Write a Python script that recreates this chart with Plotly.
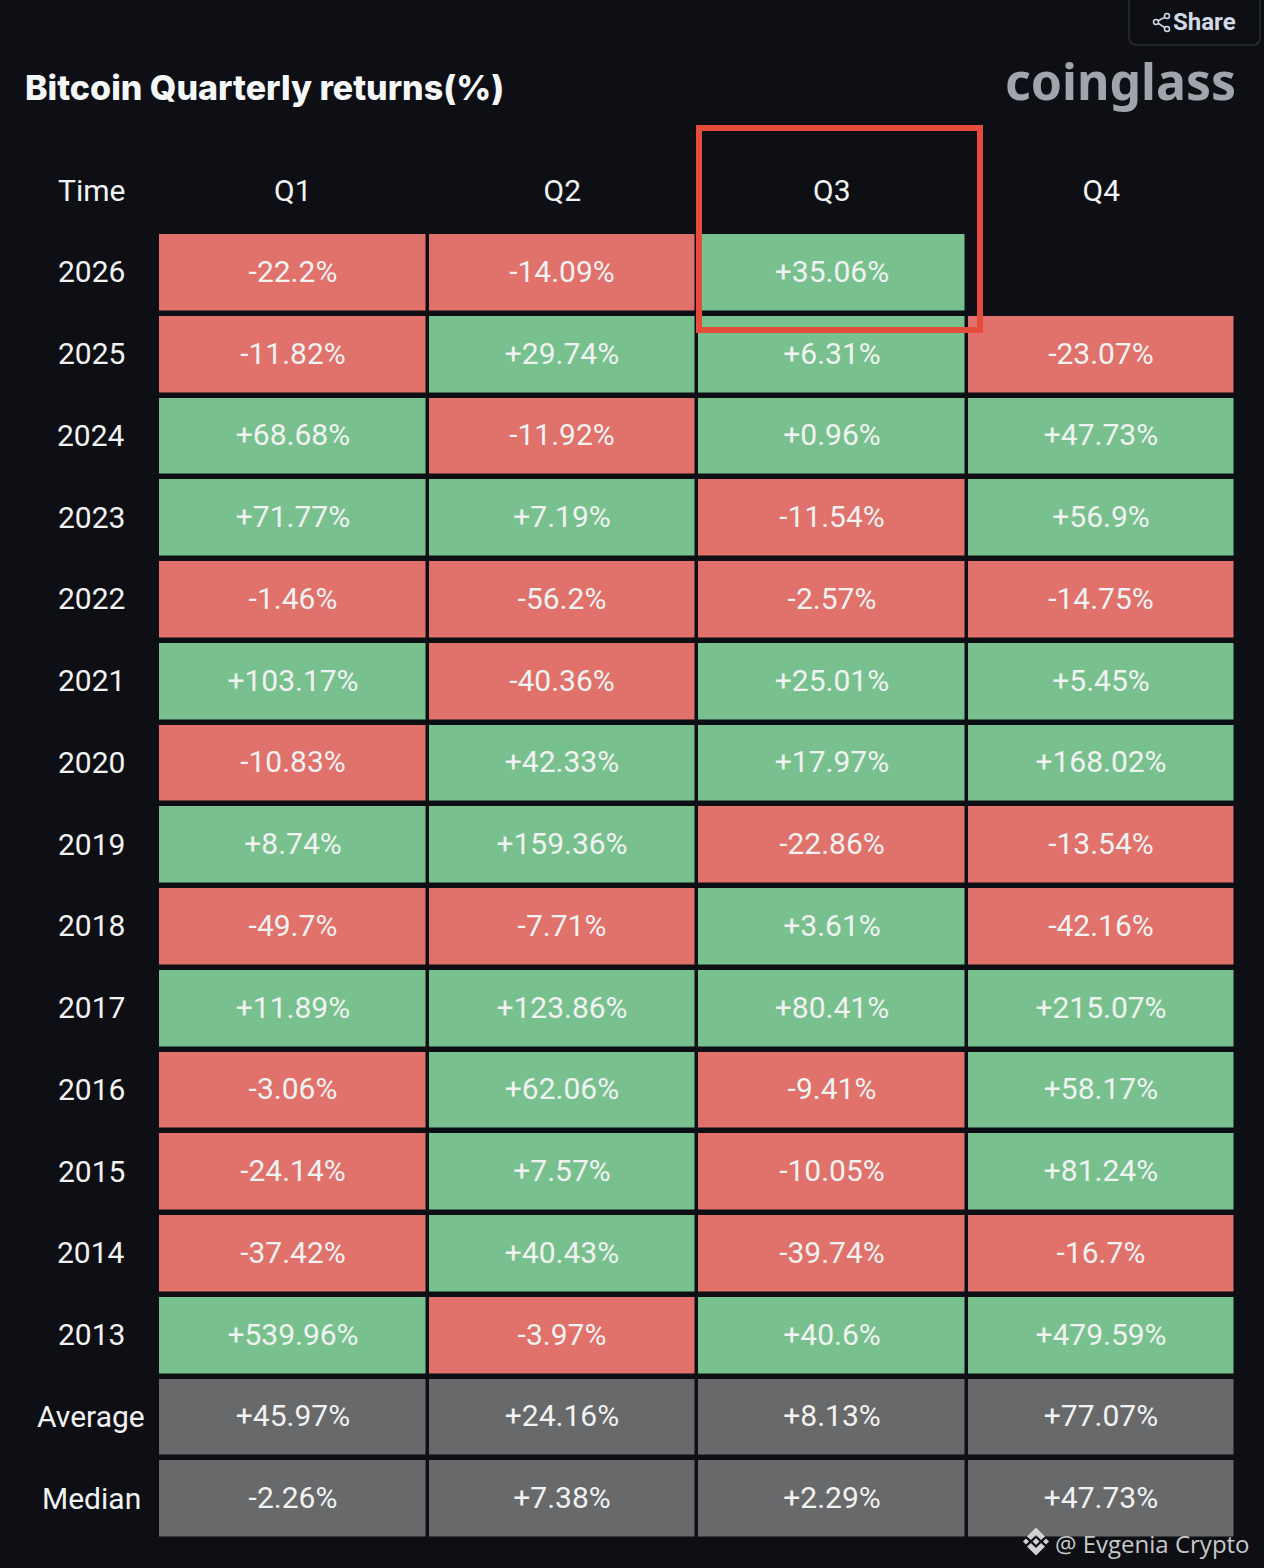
import plotly.graph_objects as go

years = ["2026", "2025", "2024", "2023", "2022", "2021", "2020", "2019", "2018", "2017", "2016", "2015", "2014", "2013"]
stats = ["Average", "Median"]
quarters = ["Q1", "Q2", "Q3", "Q4"]
q1 = [-22.2, -11.82, 68.68, 71.77, -1.46, 103.17, -10.83, 8.74, -49.7, 11.89, -3.06, -24.14, -37.42, 539.96]
q2 = [-14.09, 29.74, -11.92, 7.19, -56.2, -40.36, 42.33, 159.36, -7.71, 123.86, 62.06, 7.57, 40.43, -3.97]
q3 = [35.06, 6.31, 0.96, -11.54, -2.57, 25.01, 17.97, -22.86, 3.61, 80.41, -9.41, -10.05, -39.74, 40.6]
q4 = [None, -23.07, 47.73, 56.9, -14.75, 5.45, 168.02, -13.54, -42.16, 215.07, 58.17, 81.24, -16.7, 479.59]
average = [45.97, 24.16, 8.13, 77.07]
median = [-2.26, 7.38, 2.29, 47.73]

BG = "#0d0f14"
RED = "#e0716b"
GREEN = "#78c18f"
GRAY = "#68696b"
TXT = "#f1f2f2"
NARROW = "Liberation Sans Narrow, Roboto, sans-serif"
SIZE = 30

W, H = 1264, 1568
L, R, T, B = 158, 1236, 232, 1540


def px(x):
    return (x - L) / (R - L)


def py(y):
    return (B - y) / (B - T)


def fmt(v):
    return "" if v is None else f"{v:+g}%"


def sign(v):
    return None if v is None else (1 if v >= 0 else -1)


labels = years + stats
rows = [[q[i] for q in (q1, q2, q3, q4)] for i in range(len(years))]
z = [[sign(v) for v in r] for r in rows] + [[0] * 4, [0] * 4]
text = [[fmt(v) for v in r] for r in rows + [average, median]]

fig = go.Figure(go.Heatmap(
    x=quarters, y=labels, z=z, text=text, texttemplate="%{text}",
    textfont=dict(family=NARROW, size=SIZE, color=TXT),
    zmin=-1, zmax=1, showscale=False, xgap=3.5, ygap=5.5, hoverongaps=False,
    colorscale=[[0, RED], [0.33, RED], [0.33, GRAY], [0.67, GRAY], [0.67, GREEN], [1, GREEN]],
))

annotations = [dict(xref="paper", yref="y", x=px(91), y=i, text=lab, showarrow=False,
                    xanchor="center", yanchor="middle", yshift=1,
                    font=dict(family=NARROW, size=SIZE, color=TXT)) for i, lab in enumerate(labels)]
annotations += [
    dict(xref="paper", yref="paper", x=px(91), y=py(190), text="Time", showarrow=False,
         xanchor="center", yanchor="middle", font=dict(family=NARROW, size=SIZE, color=TXT)),
    dict(xref="paper", yref="paper", x=px(23), y=py(87), text="Bitcoin Quarterly returns(%)", showarrow=False,
         xanchor="left", yanchor="middle",
         font=dict(family="Inter, sans-serif", size=34, color="#f5f6f7", weight=800)),
    dict(xref="paper", yref="paper", x=px(1238), y=py(81), text="coinglass", showarrow=False,
         xanchor="right", yanchor="middle",
         font=dict(family="Noto Sans, sans-serif", size=50, color="#a1a4ab", weight=700)),
    dict(xref="paper", yref="paper", x=px(1238), y=py(22), text="Share", showarrow=False,
         xanchor="right", yanchor="middle",
         font=dict(family="Roboto, sans-serif", size=24, color="#d3d8e6", weight=700)),
    dict(xref="paper", yref="paper", x=px(1252), y=py(1543), text="@ Evgenia Crypto", showarrow=False,
         xanchor="right", yanchor="middle",
         font=dict(family="Open Sans, sans-serif", size=24, color="#c8c8c8")),
]


def path(points):
    return "M " + " L ".join(f"{px(a):.5f} {py(b):.5f}" for a, b in points) + " Z"


shapes = [
    dict(type="rect", xref="paper", yref="paper", x0=px(699), x1=px(980), y0=py(128), y1=py(330),
         line=dict(color="#e64c3c", width=6), layer="above"),
    dict(type="path", xref="paper", yref="paper",
         path=(f"M {px(1129):.5f} {py(-4):.5f} L {px(1129):.5f} {py(37):.5f} "
               f"Q {px(1129):.5f} {py(45):.5f} {px(1137):.5f} {py(45):.5f} "
               f"L {px(1252):.5f} {py(45):.5f} Q {px(1260):.5f} {py(45):.5f} {px(1260):.5f} {py(37):.5f} "
               f"L {px(1260):.5f} {py(-4):.5f}"),
         line=dict(color="#2a2d33", width=1.5)),
    # share glyph
    dict(type="path", xref="paper", yref="paper",
         path=f"M {px(1167):.5f} {py(16):.5f} L {px(1156):.5f} {py(22):.5f} L {px(1167):.5f} {py(29):.5f}",
         line=dict(color="#d3d8e6", width=1.5)),
]
for cx, cy in [(1167, 16), (1156, 22), (1167, 29)]:
    shapes.append(dict(type="circle", xref="paper", yref="paper",
                       x0=px(cx - 2.5), x1=px(cx + 2.5), y0=py(cy + 2.5), y1=py(cy - 2.5),
                       fillcolor=BG, line=dict(color="#d3d8e6", width=1.5)))
# watermark mark: two chevrons and three small diamonds
cx0, cy0 = 1036, 1541.5
logo = [
    [(0, -14), (9, -5), (5, -1.5), (0, -6.5), (-5, -1.5), (-9, -5)],
    [(0, 14), (9, 5), (5, 1.5), (0, 6.5), (-5, 1.5), (-9, 5)],
    [(0, -3.5), (3.5, 0), (0, 3.5), (-3.5, 0)],
    [(-10, -3), (-7, 0), (-10, 3), (-13, 0)],
    [(10, -3), (13, 0), (10, 3), (7, 0)],
]
for poly in logo:
    shapes.append(dict(type="path", xref="paper", yref="paper",
                       path=path([(cx0 + a, cy0 + b) for a, b in poly]),
                       fillcolor="#d2d2d2", line=dict(width=0), layer="above"))

fig.update_layout(
    width=W, height=H, margin=dict(l=L, r=W - R, t=T, b=H - B),
    paper_bgcolor=BG, plot_bgcolor=BG, showlegend=False,
    annotations=annotations, shapes=shapes,
    xaxis=dict(side="top", type="category", categoryorder="array", categoryarray=quarters,
               showgrid=False, zeroline=False, ticks="", showline=False, ticklabelstandoff=24,
               tickfont=dict(family=NARROW, size=SIZE, color=TXT)),
    yaxis=dict(type="category", categoryorder="array", categoryarray=labels,
               range=[len(labels) - 0.5, -0.5],
               showgrid=False, zeroline=False, ticks="", showline=False, showticklabels=False),
)

fig.write_html("out.html", config=dict(displayModeBar=False),
               post_script=("document.body.style.margin='0';document.body.style.background='#0d0f14';"
                            "document.body.style.overflow='hidden';"
                            "var s=document.createElement('style');"
                            "s.textContent='.heatmaplayer text{transform:translateY(-2px)}';"
                            "document.head.appendChild(s);"))
